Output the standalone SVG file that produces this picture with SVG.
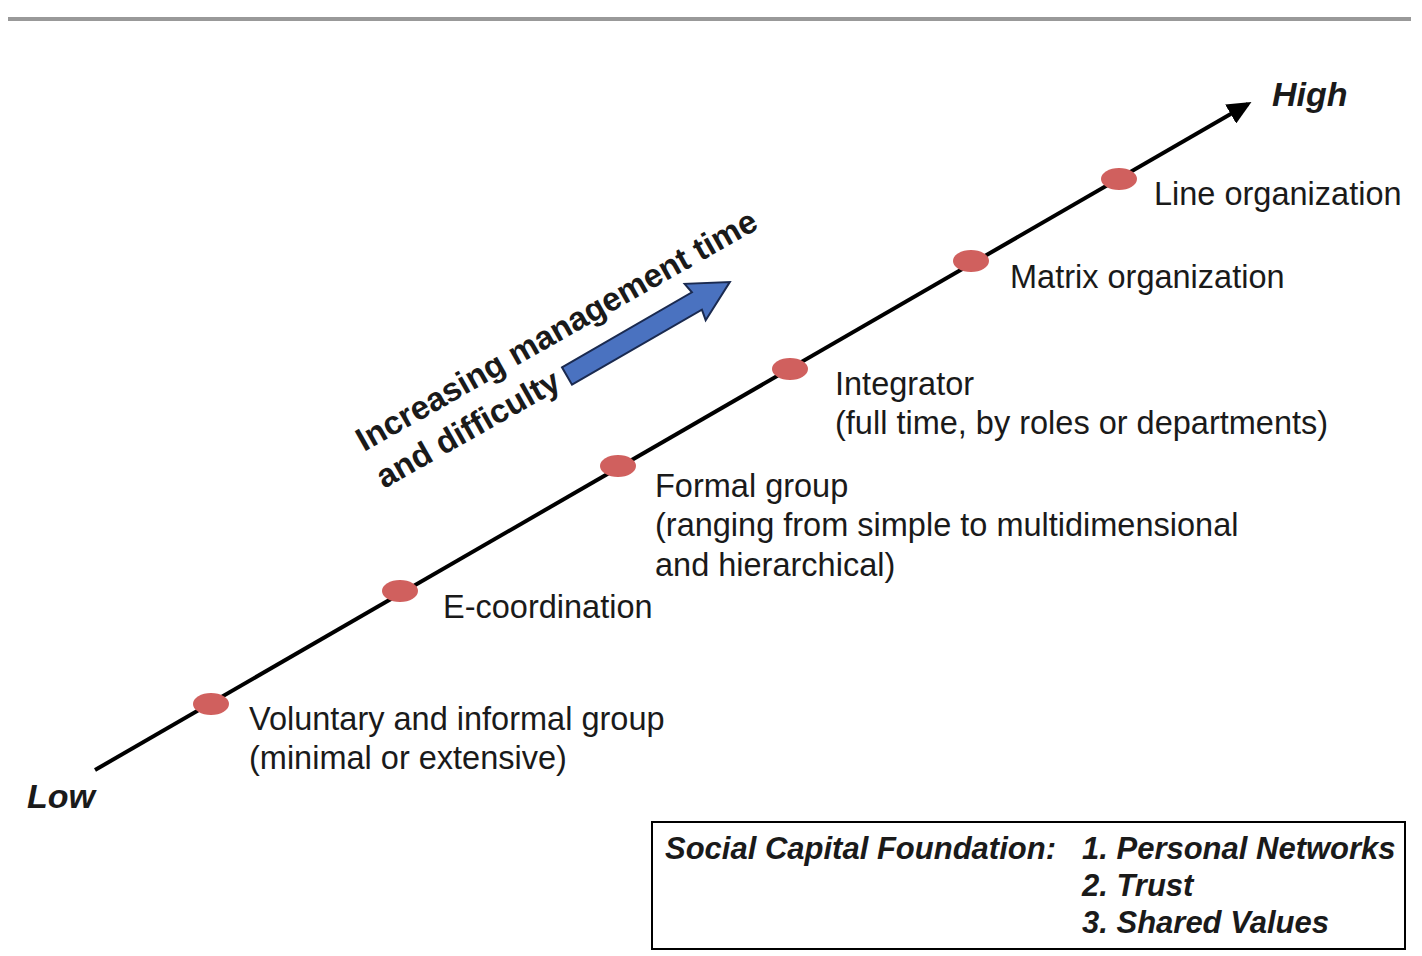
<svg xmlns="http://www.w3.org/2000/svg" width="1422" height="956" viewBox="0 0 1422 956">
<style>
text{font-family:"Liberation Sans",Arial,sans-serif;fill:#1a1a1a}
.l{font-size:32.5px}
.b{font-size:34px;font-weight:bold;font-style:italic}
.k{font-size:31px;font-weight:bold;font-style:italic}
.t{font-size:33px;font-weight:bold}
.dot{fill:#d0605e}
</style>
<defs><marker id="ah2" markerWidth="24" markerHeight="22" refX="20" refY="11" orient="auto" markerUnits="userSpaceOnUse"><path d="M0,0 L24,11 L0,22 z" fill="#000"/></marker></defs>
<rect x="8" y="17" width="1403" height="4" fill="#999"/>
<g id="connectors"><line x1="95" y1="770" x2="1248" y2="104" stroke="#000" stroke-width="4" marker-end="url(#ah2)"/></g>
<g id="n1"><ellipse class="dot" cx="211" cy="704" rx="18" ry="11"/><text class="l" x="249" y="730">Voluntary and informal group</text><text class="l" x="249" y="769">(minimal or extensive)</text></g>
<g id="n2"><ellipse class="dot" cx="400" cy="591" rx="18" ry="11"/><text class="l" x="443" y="618">E-coordination</text></g>
<g id="n3"><ellipse class="dot" cx="618" cy="466" rx="18" ry="11"/><text class="l" x="655" y="497">Formal group</text><text class="l" x="655" y="536">(ranging from simple to multidimensional</text><text class="l" x="655" y="576">and hierarchical)</text></g>
<g id="n4"><ellipse class="dot" cx="790" cy="369" rx="18" ry="11"/><text class="l" x="835" y="395">Integrator</text><text class="l" x="835" y="434">(full time, by roles or departments)</text></g>
<g id="n5"><ellipse class="dot" cx="971" cy="261" rx="18" ry="11"/><text class="l" x="1010" y="288">Matrix organization</text></g>
<g id="n6"><ellipse class="dot" cx="1119" cy="179" rx="18" ry="11"/><text class="l" x="1154" y="205">Line organization</text></g>
<text class="b" x="1272" y="106">High</text>
<text class="b" x="27" y="808">Low</text>
<g id="trend">
<polygon transform="translate(567,376) rotate(-30)" points="0,-10 150,-10 148,-21 188,0 148,21 150,10 0,10" fill="#4a72c0" stroke="#1a2a50" stroke-width="2"/>
<text class="t" transform="translate(364,452) rotate(-29.5)">Increasing management time</text>
<text class="t" transform="translate(384,489) rotate(-29.5)">and difficulty</text>
</g>
<g id="box"><rect x="652" y="822" width="753" height="127" fill="#fff" stroke="#000" stroke-width="2"/>
<text class="k" x="665" y="859">Social Capital Foundation:</text>
<text class="k" x="1082" y="859">1. Personal Networks</text>
<text class="k" x="1082" y="896">2. Trust</text>
<text class="k" x="1082" y="933">3. Shared Values</text></g>
</svg>
